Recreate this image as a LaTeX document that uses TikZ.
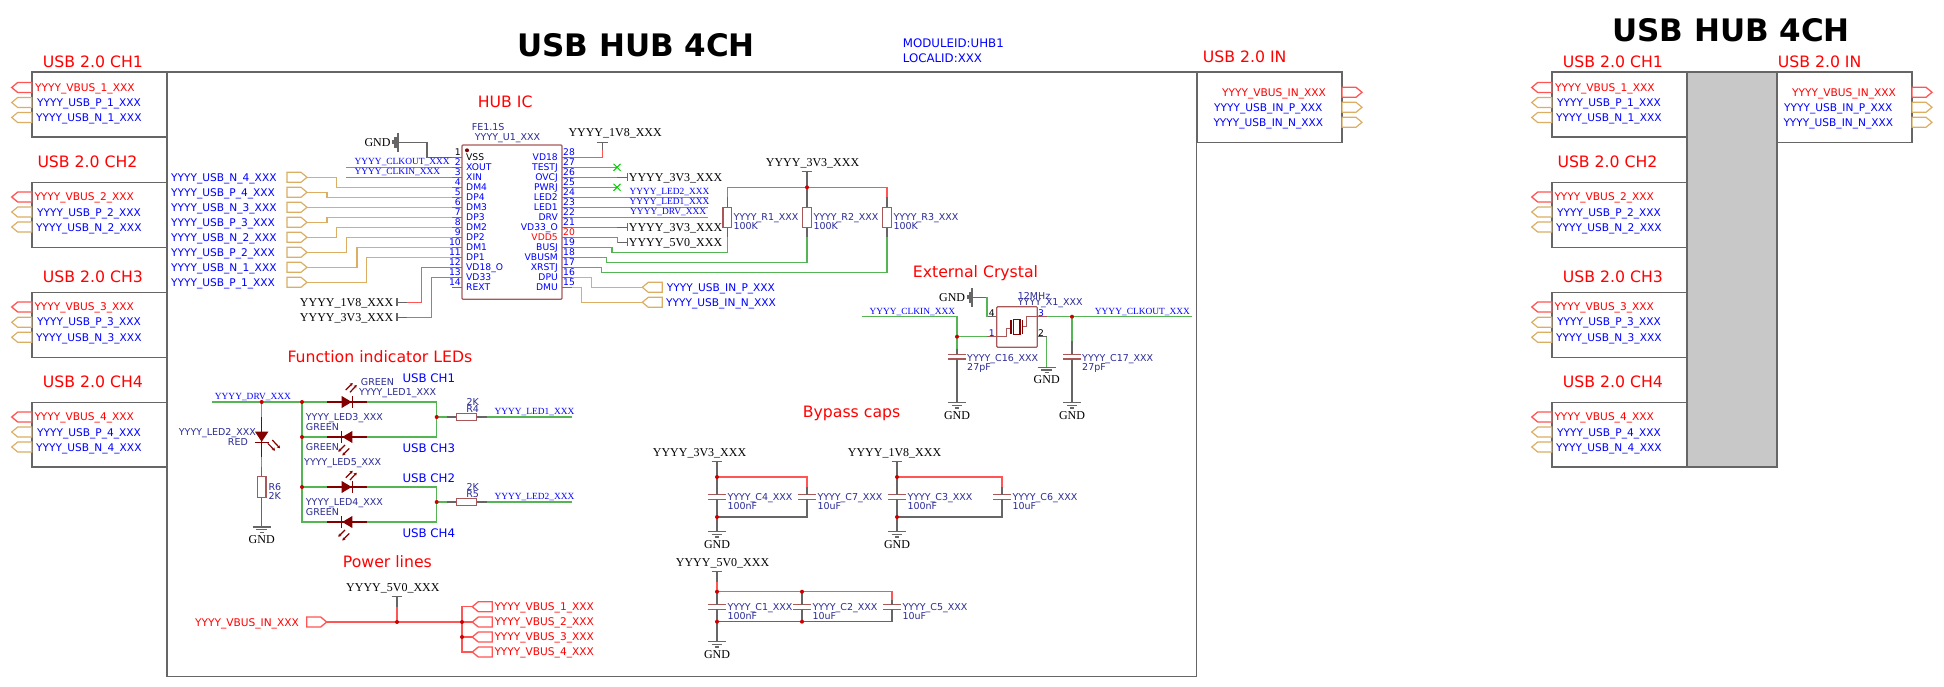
\documentclass[tikz,border=0pt]{standalone}
\usepackage{fontspec}
\setmainfont{DejaVu Sans}
\newfontfamily\netfont{Liberation Serif}
\usetikzlibrary{arrows.meta}
\definecolor{wirered}{HTML}{FF5555}
\definecolor{wiregreen}{HTML}{55B555}
\definecolor{wiretan}{HTML}{DBAE63}
\definecolor{wiregray}{HTML}{666666}
\definecolor{partcol}{HTML}{A85858}
\definecolor{partdark}{HTML}{840000}
\definecolor{partnavy}{HTML}{2A2A96}
\definecolor{sheetgray}{HTML}{C8C8C8}
\definecolor{jointred}{HTML}{CC0000}
\tikzset{
	wred/.style={draw=wirered,line width=1.2pt},
	wgreen/.style={draw=wiregreen,line width=1.2pt},
	wtan/.style={draw=wiretan,line width=1.2pt},
	wgray/.style={draw=wiregray,line width=1.2pt},
	gbar/.style={draw=wiregray,line width=1.5pt},
	gbarfat/.style={draw=wiregray,line width=2.2pt},
	partline/.style={draw=partcol,line width=1.2pt},
	rayline/.style={draw=partdark,line width=1.2pt,-{Stealth[length=3pt,width=3.5pt]}},
	sheetline/.style={draw=black!60,line width=1.2pt},
	porttan/.style={draw=wiretan,line width=1.2pt,fill=white},
	portred/.style={draw=wirered,line width=1.3pt,fill=white},
	basetext/.style={inner sep=0pt,text depth=0pt},
	titletext/.style={basetext,text height=22.6pt,font=\bfseries\fontsize{31}{34}\selectfont},
	headtext/.style={basetext,text=red,anchor=west,text height=11.5pt,font=\fontsize{15.7}{18}\selectfont},
	sigred/.style={basetext,text=red,anchor=west,text height=7.7pt,font=\fontsize{10.6}{12}\selectfont},
	sigblue/.style={basetext,text=blue,anchor=west,text height=7.7pt,font=\fontsize{10.6}{12}\selectfont},
	chtext/.style={basetext,text=blue,anchor=west,text height=8.6pt,font=\fontsize{11.8}{14}\selectfont},
	pinlab/.style={basetext,text height=6.7pt,font=\fontsize{9.2}{11}\selectfont},
	partlab/.style={basetext,text=partnavy,anchor=west,text height=6.9pt,font=\fontsize{9.5}{11}\selectfont},
	netlab/.style={basetext,text=blue,anchor=west,text height=6.2pt,font=\netfont\fontsize{9.4}{11}\selectfont},
	railtext/.style={basetext,text=black,text height=7.9pt,font=\netfont\fontsize{12}{14}\selectfont},
	resbody/.style={draw=partcol,line width=1.2pt,fill=white,inner sep=0pt},
}
\newcommand{\portl}[4]{%
	\draw[#4] (#2,#3) -- ++(6,-5) -- ++(14,0) -- ++(0,10) -- ++(-14,0) -- cycle;
	\coordinate (#1) at (#2,#3);}
\newcommand{\portr}[4]{%
	\draw[#4] (#2,#3) -- ++(-6,-5) -- ++(-14,0) -- ++(0,10) -- ++(14,0) -- cycle;
	\coordinate (#1) at (#2,#3);}
\newcommand{\railtop}[4]{%
	\coordinate (#1) at (#2,#3);
	\draw[wgray] (#1) -- ++(0,#4) coordinate (#1s);
	\draw[wgray] (#1) ++(-5.3,0) -- ++(10.6,0);}
\newcommand{\railside}[4]{%
	\coordinate (#1) at (#2,#3);
	\draw[wgray] (#1) -- ++(#4,0) coordinate (#1s);
	\draw[wgray] (#1) ++(0,-4) -- ++(0,8);}
\newcommand{\gndsym}[3]{%
	\coordinate (#1) at (#2,#3);
	\draw[gbar] (#1) ++(-9,0) -- ++(18,0);
	\draw[gbar] (#1) ++(-5.3,2.7) -- ++(10.6,0);
	\draw[gbar] (#1) ++(-2,5.4) -- ++(4,0);
	\node[railtext] (#1t) at (#2,#3+12.5) {GND};}
\newcommand{\gndleft}[3]{%
	\coordinate (#1) at (#2,#3);
	\draw[gbarfat] (#1) ++(0,-9.3) -- ++(0,18.6);
	\draw[gbarfat] (#1) ++(-2.2,-5.3) -- ++(0,10.6);
	\draw[gbarfat] (#1) ++(-4.4,-2) -- ++(0,4);
	\node[railtext,anchor=east] (#1t) at (#2-7,#3) {GND};}
\newcommand{\capv}[3]{%
	\coordinate (#1a) at (#2,#3-2.3);
	\coordinate (#1b) at (#2,#3+2.3);
	\draw[partline] (#1a) ++(-8.7,0) -- ++(17.4,0);
	\draw[partline] (#1b) ++(-8.7,0) -- ++(17.4,0);}
\newcommand{\resv}[3]{%
	\draw[wgray] (#2,#3-20) -- (#2,#3+20);
	\node[resbody,minimum width=8.7pt,minimum height=20.3pt] (#1) at (#2,#3) {};
	\coordinate (#1n) at (#2,#3-20);
	\coordinate (#1s) at (#2,#3+20);}
\newcommand{\resh}[3]{%
	\draw[wgray] (#2-20,#3) -- (#2+20,#3);
	\node[resbody,minimum width=20.3pt,minimum height=7.7pt] (#1) at (#2,#3) {};
	\coordinate (#1w) at (#2-20,#3);
	\coordinate (#1e) at (#2+20,#3);}
\newcommand{\ledr}[3]{%
	\coordinate (#1a) at (326.7,#2);
	\coordinate (#1k) at (366.7,#2);
	\draw[draw=partdark,line width=1.2pt] (#1a) -- (#1k);
	\fill[partdark] (341.7,#2-6) -- (351.7,#2) -- (341.7,#2+6) -- cycle;
	\draw[draw=partdark,line width=1.2pt] (352.3,#2-6) -- (352.3,#2+6);
	\draw[rayline] (345.7,#2-9.3+#3) -- ++(7,-7);
	\draw[rayline] (350,#2-7+#3) -- ++(6.7,-7.3);}
\newcommand{\ledl}[2]{%
	\coordinate (#1a) at (326.7,#2);
	\coordinate (#1k) at (366.7,#2);
	\draw[draw=partdark,line width=1.2pt] (#1a) -- (#1k);
	\fill[partdark] (352.3,#2-6) -- (342.3,#2) -- (352.3,#2+6) -- cycle;
	\draw[draw=partdark,line width=1.2pt] (341.7,#2-6) -- (341.7,#2+6);
	\draw[rayline] (345,#2+8) -- ++(-6.7,6.7);
	\draw[rayline] (349.3,#2+11.5) -- ++(-7,7);}
\newcommand{\jdot}[1]{\fill[jointred] (#1) circle (2pt);}

\begin{document}
\begin{tikzpicture}[x=1pt,y=-1pt]
	\useasboundingbox (0,0) rectangle (1944,687);
	\fill[white] (0,0) rectangle (1944,687);
	\node[titletext,anchor=west] (titleleft) at (517,45) {USB HUB 4CH};
	\node[titletext,anchor=west] (titleright) at (1612,30.5) {USB HUB 4CH};
	\node[chtext] (moduleid) at (902.7,43.3) {MODULEID:UHB1};
	\node[chtext] (localid) at (902.7,58.3) {LOCALID:XXX};
	\draw[sheetline] (167,72) rectangle (1196.7,676.7);
	\fill[sheetgray] (1687,72) rectangle (1777,467);
	\draw[sheetline] (1687,72) rectangle (1777,467);
	% channel sheets
	\foreach \ox in {0,1520} {
		\foreach \i/\hx/\hy/\bt/\bb/\pa/\pb/\pc/\vx/\ly/\lp/\ln in {
			1/42.7/61.7/72/137/87.5/102.5/117.5/35/88/103/118,
			2/37.3/161.7/182.3/247.3/197/212/227/34.3/196.7/212.7/227.7,
			3/42.7/276.7/292.3/357.3/307/322.3/337.3/34.3/306.3/322/337.3,
			4/42.7/381.7/402.3/467/417/432/447/34.3/416.3/432.7/447.7} {
			\fill[white] (\ox+32,\bt) rectangle (\ox+167,\bb);
			\draw[sheetline] (\ox+32,\bt) rectangle (\ox+167,\bb);
			\node[headtext] (chhead\ox-\i) at (\ox+\hx,\hy) {USB 2.0 CH\i};
			\portl{chv\ox-\i}{\ox+11.7}{\pa}{portred}
			\portl{chp\ox-\i}{\ox+11.7}{\pb}{porttan}
			\portl{chn\ox-\i}{\ox+11.7}{\pc}{porttan}
			\node[sigred] (chvt\ox-\i) at (\ox+\vx,\ly) {YYYY\_VBUS\_\i\_XXX};
			\node[sigblue] (chpt\ox-\i) at (\ox+37,\lp) {YYYY\_USB\_P\_\i\_XXX};
			\node[sigblue] (chnt\ox-\i) at (\ox+36,\ln) {YYYY\_USB\_N\_\i\_XXX};
		}
	}
	% upstream sheets
	\foreach \ox/\bl/\hx/\hy in {0/1197/1202.7/56.7,570/1777/1777.6/61.7} {
		\fill[white] (\bl,72) rectangle (\ox+1342,142.3);
		\draw[sheetline] (\bl,72) rectangle (\ox+1342,142.3);
		\node[headtext] (inhead\ox) at (\hx,\hy) {USB 2.0 IN};
		\portr{inv\ox}{\ox+1362}{92.3}{portred}
		\portr{inp\ox}{\ox+1362}{107.3}{porttan}
		\portr{inn\ox}{\ox+1362}{122.3}{porttan}
		\node[sigred] (invt\ox) at (\ox+1222,92.7) {YYYY\_VBUS\_IN\_XXX};
		\node[sigblue] (inpt\ox) at (\ox+1214,107.7) {YYYY\_USB\_IN\_P\_XXX};
		\node[sigblue] (innt\ox) at (\ox+1213.3,122.7) {YYYY\_USB\_IN\_N\_XXX};
	}
	% hub ic
	\node[headtext] (hubhead) at (477.7,101.7) {HUB IC};
	\node[partlab] (hubval) at (471.7,127.3) {FE1.1S};
	\node[partlab] (hubref) at (474.7,137.3) {YYYY\_U1\_XXX};
	\foreach \t/\c [count=\i] in {VSS/black,XOUT/blue,XIN/blue,DM4/blue,DP4/blue,DM3/blue,DP3/blue,DM2/blue,DP2/blue,DM1/blue,DP1/blue,VD18\_O/blue,VD33/blue,REXT/blue} {
		\pgfmathsetmacro{\py}{147.3+10*\i}
		\coordinate (pL\i) at (452,\py);
		\draw[draw=partcol,line width=1.2pt] (pL\i) -- (462,\py);
		\node[pinlab,text=\c,anchor=west] (ltx\i) at (466,\py) {\t};
		\node[pinlab,text=\c,anchor=east] (lnum\i) at (461,\py-4.7) {\i};
	}
	\foreach \t/\c [count=\i] in {VD18/blue,TESTJ/blue,OVCJ/blue,PWRJ/blue,LED2/blue,LED1/blue,DRV/blue,VD33\_O/blue,VDD5/red,BUSJ/blue,VBUSM/blue,XRSTJ/blue,DPU/blue,DMU/blue} {
		\pgfmathsetmacro{\py}{147.3+10*\i}
		\pgfmathtruncatemacro{\num}{29-\i}
		\coordinate (pR\num) at (572,\py);
		\draw[draw=partcol,line width=1.2pt] (pR\num) -- (562,\py);
		\node[pinlab,text=\c,anchor=east] (rtx\num) at (558,\py) {\t};
		\node[pinlab,text=\c,anchor=west] (rnum\num) at (563,\py-4.7) {\num};
	}
	\draw[partline,rounded corners=1pt] (462,145) rectangle (562,299.3);
	\fill[partdark] (467,150.3) circle (2pt);
	\gndleft{gndhub}{397.7}{142.3}
	\draw[wgray] (gndhub) -- ++(29.3,0) |- (pL1);
	\coordinate (clkoutend) at (346,167.3);
	\coordinate (clkinend) at (346,177.3);
	\draw[wgreen] (clkoutend) -- (pL2);
	\draw[wgreen] (clkinend) -- (pL3);
	\node[netlab] (clkoutlab) at (354.4,161.7) {YYYY\_CLKOUT\_XXX};
	\node[netlab] (clkinlab) at (354.4,171.7) {YYYY\_CLKIN\_XXX};
	\foreach \i/\t/\yy/\pn/\dx in {1/N\_4/177.3/4/29.7,2/P\_4/192.3/5/20,3/N\_3/207.3/6/0,4/P\_3/222.3/7/20,5/N\_2/237.3/8/29.7,6/P\_2/252.3/9/39.8,7/N\_1/267.3/10/49.9,8/P\_1/282.3/11/59.6} {
		\portr{bus\i}{307}{\yy}{porttan}
		\node[sigblue] (bustx\i) at (171,\yy) {YYYY\_USB\_\t\_XXX};
		\draw[wtan] (bus\i) -- ++(\dx,0) |- (pL\pn);
	}
	\railside{rtwelve}{397}{302.3}{10}
	\railside{rthirteen}{397}{317.3}{10}
	\node[railtext,anchor=east] (rtwelvet) at (393.5,302.3) {YYYY\_1V8\_XXX};
	\node[railtext,anchor=east] (rthirteent) at (393.5,317.3) {YYYY\_3V3\_XXX};
	\draw[wred] (pL12) -- ++(-30.3,0) |- (rtwelves);
	\draw[wred] (pL13) -- ++(-20.2,0) |- (rthirteens);
	\railtop{reight}{602.3}{142.3}{8}
	\node[railtext,anchor=west] (reightt) at (568.3,132.3) {YYYY\_1V8\_XXX};
	\draw[wred] (pR28) -| (reights);
	\coordinate (nc27) at (617,167.3);
	\coordinate (nc25) at (617,187.3);
	\draw[wgreen] (pR27) -- (nc27);
	\draw[wgreen] (pR25) -- (nc25);
	\foreach \nc in {nc27,nc25} {
		\draw[draw=green!80!black,line width=1pt] (\nc) ++(-3.5,-3.5) -- ++(7,7);
		\draw[draw=green!80!black,line width=1pt] (\nc) ++(-3.5,3.5) -- ++(7,-7);
	}
	\railside{rsix}{627.7}{177.3}{-11}
	\railside{rone}{627.7}{227.3}{-11}
	\railside{rzero}{627.7}{242.3}{-11}
	\node[railtext,anchor=west] (rsixt) at (628.7,177.3) {YYYY\_3V3\_XXX};
	\node[railtext,anchor=west] (ronet) at (628.7,227.3) {YYYY\_3V3\_XXX};
	\node[railtext,anchor=west] (rzerot) at (628.7,242.3) {YYYY\_5V0\_XXX};
	\draw[wred] (pR26) -- (rsixs);
	\draw[wred] (pR21) -- (rones);
	\draw[wred] (pR20) -- ++(45.3,0) |- (rzeros);
	\coordinate (led2end) at (707.7,197.3);
	\coordinate (led1end) at (707.7,207.3);
	\coordinate (drvend) at (707.7,217.3);
	\draw[wgreen] (pR24) -- (led2end);
	\draw[wgreen] (pR23) -- (led1end);
	\draw[wgreen] (pR22) -- (drvend);
	\node[netlab] (led2lab) at (629.3,191.7) {YYYY\_LED2\_XXX};
	\node[netlab] (led1lab) at (629.3,201.7) {YYYY\_LED1\_XXX};
	\node[netlab] (drvlab) at (630,211.7) {YYYY\_DRV\_XXX};
	\railtop{rpull}{807}{171.7}{15.6}
	\node[railtext,anchor=west] (rpullt) at (765.7,162.3) {YYYY\_3V3\_XXX};
	\resv{Rone}{727.3}{217.3}
	\resv{Rtwo}{807}{217.3}
	\resv{Rthree}{887}{217.3}
	\draw[wred] (Ronen) |- (rpulls) -| (Rthreen);
	\draw[wgray] (rpulls) -- (Rtwo.north);
	\draw[wgreen] (pR19) -- ++(40,0) |- (727.3,252.3) -- (Rones);
	\draw[wgreen] (pR18) -- ++(34.7,0) |- (807,262.3) -- (Rtwos);
	\draw[wgreen] (pR17) -- ++(29.7,0) |- (887,272.3) -- (Rthrees);
	\jdot{rpulls}
	\node[partlab] (Ronelab) at (733.3,217.3) {YYYY\_R1\_XXX};
	\node[partlab] (Ronev) at (733.3,226) {100K};
	\node[partlab] (Rtwolab) at (813.3,217.3) {YYYY\_R2\_XXX};
	\node[partlab] (Rtwov) at (813.3,226) {100K};
	\node[partlab] (Rthreelab) at (893.3,217.3) {YYYY\_R3\_XXX};
	\node[partlab] (Rthreev) at (893.3,226) {100K};
	\portl{usbinp}{642.3}{287.3}{porttan}
	\portl{usbinn}{642.3}{302.3}{porttan}
	\draw[wtan] (pR16) -- ++(19.7,0) |- (usbinp);
	\draw[wtan] (pR15) -- ++(9.7,0) |- (usbinn);
	\node[sigblue] (usbinpt) at (666.7,287.3) {YYYY\_USB\_IN\_P\_XXX};
	\node[sigblue] (usbinnt) at (666,302.3) {YYYY\_USB\_IN\_N\_XXX};
	% crystal
	\node[headtext] (xtalhead) at (912.7,271.7) {External Crystal};
	\coordinate (xfour) at (987,316.7);
	\coordinate (xone) at (987,336.7);
	\coordinate (xthree) at (1046.7,316.7);
	\coordinate (xtwo) at (1046.7,336.7);
	\draw[wgray] (xfour) -- (997,316.7);
	\draw[wgray] (xtwo) -- (1037,336.7);
	\draw[partline] (xone) -- (1006.7,336.7) |- (1011,328.3);
	\draw[partline] (xthree) -- (1026.7,316.7) |- (1022.3,326.7);
	\node[draw=partcol,line width=1.2pt,rounded corners=1pt,minimum width=40.6pt,minimum height=40.6pt,inner sep=0pt] (xtal) at (1017,327) {};
	\node[draw=partdark,line width=1.2pt,fill=white,minimum width=6.5pt,minimum height=14.3pt,inner sep=0pt] (xtalcore) at (1016.7,327) {};
	\draw[draw=partdark,line width=1.6pt] (1011,320) -- (1011,334.3);
	\draw[draw=partdark,line width=1.6pt] (1022.3,320) -- (1022.3,334.3);
	\node[pinlab,text=black,anchor=east] (xnfour) at (995,312.7) {4};
	\node[pinlab,text=blue,anchor=east] (xnone) at (995,332.7) {1};
	\node[pinlab,text=blue,anchor=west] (xnthree) at (1038,312.7) {3};
	\node[pinlab,text=black,anchor=west] (xntwo) at (1038,332.7) {2};
	\node[partlab] (xtalval) at (1017.7,295.7) {12MHz};
	\node[partlab] (xtalref) at (1017.7,302.5) {YYYY\_X1\_XXX};
	\gndleft{gndx}{972.3}{297.3}
	\draw[wgray] (gndx) -- ++(14.7,0) coordinate (gndxc);
	\draw[wgreen] (gndxc) -- (xfour);
	\coordinate (clkinstart) at (861.7,316.7);
	\coordinate (jxin) at (957,336.7);
	\coordinate (jxout) at (1072,316.7);
	\coordinate (clkoutstop) at (1192,316.7);
	\capv{csixteen}{957}{356.7}
	\capv{cseventeen}{1072}{356.7}
	\gndsym{gndc16}{957}{402.7}
	\gndsym{gndc17}{1072}{402.7}
	\gndsym{gndxtwo}{1046.7}{367.3}
	\draw[wgreen] (clkinstart) -| (jxin) -- (xone);
	\draw[wgreen] (xthree) -- (clkoutstop);
	\draw[wgreen] (xtwo) -- (gndxtwo);
	\draw[wgray] (csixteena) -- ++(0,-5) coordinate (csixteenn);
	\draw[wgreen] (jxin) -- (csixteenn);
	\draw[wgray] (cseventeena) -- ++(0,-13) coordinate (cseventeenn);
	\draw[wgreen] (jxout) -- (cseventeenn);
	\draw[wgray] (csixteenb) -- (gndc16);
	\draw[wgray] (cseventeenb) -- (gndc17);
	\jdot{jxin}
	\jdot{jxout}
	\node[netlab] (clkinright) at (869.3,311.7) {YYYY\_CLKIN\_XXX};
	\node[netlab] (clkoutright) at (1094.7,311.7) {YYYY\_CLKOUT\_XXX};
	\node[partlab] (csixteenlab) at (967,357.7) {YYYY\_C16\_XXX};
	\node[partlab] (csixteenv) at (967,366.7) {27pF};
	\node[partlab] (cseventeenlab) at (1082,357.7) {YYYY\_C17\_XXX};
	\node[partlab] (cseventeenv) at (1082,366.7) {27pF};
	% leds
	\node[headtext] (ledhead) at (287.3,356.7) {Function indicator LEDs};
	\ledr{ledone}{402}{-2.7}
	\ledl{ledthree}{437}
	\ledr{ledfive}{487}{0}
	\ledl{ledfour}{522}
	\coordinate (drvstart) at (211.7,402);
	\coordinate (jdrv) at (261.7,402);
	\coordinate (jbone) at (302,402);
	\coordinate (jbtwo) at (302,437);
	\coordinate (jbthree) at (302,487);
	\coordinate (jrone) at (436.7,417);
	\coordinate (jrtwo) at (436.7,502);
	\coordinate (ledoneout) at (572.3,417);
	\coordinate (ledtwoout) at (572.3,502);
	\draw[wgreen] (drvstart) -- (ledonea);
	\draw[wgreen] (jbone) |- (ledfoura);
	\draw[wgreen] (jbtwo) -- (ledthreea);
	\draw[wgreen] (jbthree) -- (ledfivea);
	\draw[wgreen] (ledonek) -| (jrone) |- (ledthreek);
	\draw[wgreen] (ledfivek) -| (jrtwo) |- (ledfourk);
	\resh{Rfour}{466.7}{417}
	\resh{Rfive}{466.7}{502}
	\draw[wgreen] (jrone) -- (Rfourw);
	\draw[wgreen] (jrtwo) -- (Rfivew);
	\draw[wgreen] (Rfoure) -- (ledoneout);
	\draw[wgreen] (Rfivee) -- (ledtwoout);
	\node[partlab,anchor=center] (Rfourv) at (472.7,401.7) {2K};
	\node[partlab,anchor=center] (Rfourlab) at (472.7,408.7) {R4};
	\node[partlab,anchor=center] (Rfivev) at (472.7,486.7) {2K};
	\node[partlab,anchor=center] (Rfivelab) at (472.7,493.7) {R5};
	\node[netlab] (ledonelab) at (494.3,411.7) {YYYY\_LED1\_XXX};
	\node[netlab] (ledtwolab) at (494.3,496.7) {YYYY\_LED2\_XXX};
	\node[netlab] (drvleft) at (214.7,396.7) {YYYY\_DRV\_XXX};
	% red led
	\coordinate (redtop) at (261.7,417.3);
	\coordinate (redbot) at (261.7,456.7);
	\draw[wgreen] (jdrv) -- (redtop);
	\draw[draw=partdark,line width=1.2pt] (redtop) -- (redbot);
	\fill[partdark] (255,431.7) -- (268.4,431.7) -- (261.7,441.7) -- cycle;
	\draw[draw=partdark,line width=1.2pt] (254.7,442.3) -- (268.7,442.3);
	\draw[rayline] (267.7,443.3) -- ++(7.3,7.4);
	\draw[rayline] (272.3,440) -- ++(7.7,8.3);
	\node[resbody,minimum width=8.7pt,minimum height=20.6pt] (Rsix) at (261.7,487) {};
	\gndsym{gndred}{261.7}{527}
	\draw[wgreen] (redbot) -- ++(0,10) coordinate (redlow);
	\draw[wgray] (redlow) -- (Rsix.north);
	\draw[wgray] (Rsix.south) -- (gndred);
	\node[partlab] (ledtwoname) at (178.7,432) {YYYY\_LED2\_XXX};
	\node[partlab] (ledtwoval) at (227.7,442.3) {RED};
	\node[partlab] (Rsixlab) at (268.3,487) {R6};
	\node[partlab] (Rsixv) at (268.3,496.3) {2K};
	\node[partlab] (ledonev) at (360.7,382) {GREEN};
	\node[partlab] (ledoneref) at (359,392) {YYYY\_LED1\_XXX};
	\node[partlab] (ledthreeref) at (305.7,417) {YYYY\_LED3\_XXX};
	\node[partlab] (ledthreev) at (305.7,427) {GREEN};
	\node[partlab] (ledfivev) at (305.7,447) {GREEN};
	\node[partlab] (ledfiveref) at (304,462) {YYYY\_LED5\_XXX};
	\node[partlab] (ledfourref) at (305.7,502) {YYYY\_LED4\_XXX};
	\node[partlab] (ledfourv) at (305.7,512) {GREEN};
	\node[chtext] (usbchone) at (402.3,378.3) {USB CH1};
	\node[chtext] (usbchthree) at (402.3,448) {USB CH3};
	\node[chtext] (usbchtwo) at (402.3,477.7) {USB CH2};
	\node[chtext] (usbchfour) at (402.3,533) {USB CH4};
	\foreach \j in {jdrv,jbone,jbtwo,jbthree,jrone,jrtwo} {\jdot{\j}}
	% power lines
	\node[headtext] (powerhead) at (342.7,561.7) {Power lines};
	\railtop{rpower}{397}{596.7}{10}
	\node[railtext,anchor=west] (rpowert) at (346,587.3) {YYYY\_5V0\_XXX};
	\portr{vbusin}{326.7}{622}{portred}
	\node[sigred,anchor=east] (vbusint) at (299,622.3) {YYYY\_VBUS\_IN\_XXX};
	\coordinate (jpfive) at (397,622);
	\coordinate (jptop) at (462,622);
	\coordinate (jpmid) at (462,637);
	\foreach \i/\yy in {1/606.7,2/622,3/637,4/652} {
		\portl{vbusout\i}{472.3}{\yy}{portred}
		\node[sigred] (vbusoutt\i) at (494.3,\yy) {YYYY\_VBUS\_\i\_XXX};
	}
	\draw[draw=wirered,line width=1.3pt] (vbusin) -- (vbusout2);
	\draw[draw=wirered,line width=1.3pt] (rpowers) -- (jpfive);
	\draw[draw=wirered,line width=1.3pt] (vbusout1) -| (jptop) |- (vbusout4);
	\draw[draw=wirered,line width=1.3pt] (jpmid) -- (vbusout3);
	\foreach \j in {jpfive,jptop,jpmid} {\jdot{\j}}
	% bypass caps
	\node[headtext] (bypasshead) at (802.7,411.7) {Bypass caps};
	\foreach \nm/\xa/\xb/\lx/\rail/\ra/\rb in {a/717/807/652.7/3V3/4/7,b/897/1002/847.7/1V8/3/6} {
		\railtop{rby\nm}{\xa}{461.7}{15.3}
		\node[railtext,anchor=west] (rby\nm t) at (\lx,452.3) {YYYY\_\rail\_XXX};
		\capv{cby\nm}{\xa}{497}
		\capv{cbz\nm}{\xb}{497}
		\gndsym{gby\nm}{\xa}{531.7}
		\coordinate (jby\nm) at (\xa,517);
		\draw[wgray] (rby\nm s) -- (cby\nm a);
		\draw[wgray] (cby\nm b) -- (gby\nm);
		\draw[wgray] (jby\nm) -| (cbz\nm b);
		\draw[wgray] (cbz\nm a) -- ++(0,-8) coordinate (cbz\nm n);
		\draw[wred] (rby\nm s) -| (cbz\nm n);
		\jdot{rby\nm s}
		\jdot{jby\nm}
		\node[partlab] (cby\nm l) at (\xa+10.3,497.3) {YYYY\_C\ra\_XXX};
		\node[partlab] (cby\nm v) at (\xa+10.3,506) {100nF};
		\node[partlab] (cbz\nm l) at (\xb+10.3,497.3) {YYYY\_C\rb\_XXX};
		\node[partlab] (cbz\nm v) at (\xb+10.3,506) {10uF};
	}
	\railtop{rbyc}{717}{571.7}{10}
	\node[railtext,anchor=west] (rbyct) at (675.7,562.3) {YYYY\_5V0\_XXX};
	\capv{cone}{717}{607}
	\capv{ctwo}{802}{607}
	\capv{cfive}{892}{607}
	\gndsym{gbyc}{717}{641.7}
	\coordinate (jctop) at (717,591.7);
	\coordinate (jcmid) at (802,591.7);
	\coordinate (jclow) at (717,621.7);
	\coordinate (jcmidlow) at (802,621.7);
	\draw[wred] (rbycs) -- (jctop);
	\draw[wgray] (jctop) -- (conea);
	\draw[wgray] (coneb) -- (gbyc);
	\draw[wgray] (jcmid) -- (ctwoa);
	\draw[wgray] (ctwob) -- (jcmidlow);
	\draw[wgray] (jclow) -| (cfiveb);
	\draw[wgray] (cfivea) -- ++(0,-5) coordinate (cfiven);
	\draw[wred] (jctop) -| (cfiven);
	\foreach \j in {jctop,jcmid,jclow,jcmidlow} {\jdot{\j}}
	\foreach \nm/\xa/\rf/\vl in {cone/727.3/1/100nF,ctwo/812.3/2/10uF,cfive/902.3/5/10uF} {
		\node[partlab] (\nm l) at (\xa,607.3) {YYYY\_C\rf\_XXX};
		\node[partlab] (\nm v) at (\xa,616) {\vl};
	}
\end{tikzpicture}
\end{document}
